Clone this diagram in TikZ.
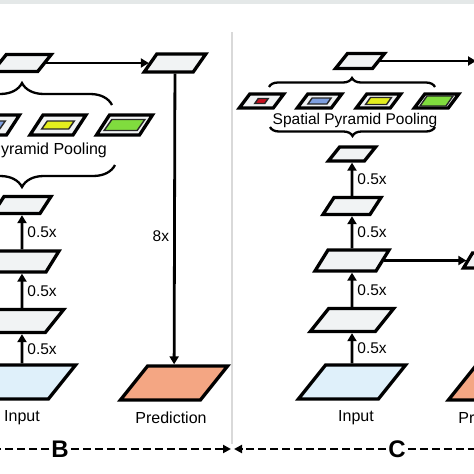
\documentclass[tikz,border=0pt]{standalone}
\usepackage{fontspec}
\setmainfont{Liberation Sans}
\usepackage{tikz}
\usepackage{xcolor}
\usetikzlibrary{positioning,calc,arrows.meta,decorations.pathreplacing}

\definecolor{sheetgray}{HTML}{F1F3F4}
\definecolor{inputblue}{HTML}{DFF0FA}
\definecolor{predorange}{HTML}{F4A683}
\definecolor{binred}{HTML}{C8101E}
\definecolor{binblue}{HTML}{7E9FE0}
\definecolor{binyellow}{HTML}{E4EE1E}
\definecolor{bingreen}{HTML}{80DC3E}
\definecolor{sepgray}{HTML}{D9D9D9}
\definecolor{bandgray}{HTML}{E4E8E8}

\begin{document}
\begin{tikzpicture}[
    x=1pt, y=-1pt,
    sheet/.style={draw, line width=3.3pt, fill=sheetgray, inner sep=0pt},
    lv0/.style={sheet, minimum width=80pt, minimum height=34pt, xslant=0.8},
    lv1/.style={sheet, minimum width=65pt, minimum height=23pt, xslant=0.8},
    lv2/.style={sheet, minimum width=61pt, minimum height=21pt, xslant=0.62},
    lv3/.style={sheet, minimum width=47pt, minimum height=17pt, xslant=0.65},
    lv4/.style={sheet, minimum width=36pt, minimum height=14pt, xslant=0.8},
    poolB/.style={sheet, minimum width=43pt, minimum height=20pt, xslant=0.65},
    poolC/.style={sheet, minimum width=34pt, minimum height=14pt, xslant=0.75},
    bin/.style={draw=black!85, line width=1.4pt, inner sep=0pt, xslant=0.7},
    arrow/.style={-{Triangle[length=8pt,width=9pt]}, line width=2.8pt},
    rate/.style={font=\fontsize{15.5}{17}\selectfont, inner sep=1pt},
    lab/.style={font=\fontsize{16}{18}\selectfont, inner sep=0pt},
    brc/.style={decorate, line width=2.3pt},
    part/.style={font=\fontsize{24}{26}\selectfont\bfseries, inner sep=2pt},
    sectline/.style={dashed, dash pattern=on 8pt off 4pt, line width=2.4pt}
  ]
    \useasboundingbox (0,0) rectangle (474,474);
    \fill[white] (0,0) rectangle (474,474);
    \clip (0,0) rectangle (474,474);
    \fill[bandgray] (0,0) rectangle (474,4);
    \draw[sepgray, line width=1.2pt] (232,32) -- (232,444);

    % B
    \node[sheet, minimum width=45pt, minimum height=17pt, xslant=0.8] (bTop) at (22,63) {};
    \node[sheet, minimum width=49pt, minimum height=18pt, xslant=0.7] (bOut) at (175,63) {};
    \draw[brc, decoration={brace, amplitude=22pt}] (-68,105) -- (112,105);
    \node[poolB] (bPool1) at (-75,125) {};
    \node[poolB] (bPool2) at (-8.5,125) {};
    \node[poolB] (bPool3) at (58,125) {};
    \node[poolB] (bPool4) at (124.5,125) {};
    \node[bin, fill=binred, minimum width=12pt, minimum height=6pt] (bBin1) at (bPool1) {};
    \node[bin, fill=binblue, minimum width=22pt, minimum height=8pt] (bBin2) at (bPool2) {};
    \node[bin, fill=binyellow, minimum width=27pt, minimum height=8pt] (bBin3) at (bPool3) {};
    \node[bin, fill=bingreen, minimum width=33pt, minimum height=11pt] (bBin4) at (bPool4) {};
    \node[lab] (bSpp) at (22,150) {Spatial Pyramid Pooling};
    \draw[brc, decoration={brace, amplitude=22pt}] (115,165) -- (-71,165);
    \node[lv3] (bS3) at (22,205) {};
    \node[lv2] (bS2) at (22,261.5) {};
    \node[lv1] (bS1) at (22,321) {};
    \node[lv0, fill=inputblue] (bIn) at (22,382) {};
    \node[lv0, fill=predorange] (bPred) at (174,383) {};
    \node[lab] (bInLab) at (22,418) {Input};
    \node[lab] (bPredLab) at (171,418) {Prediction};

    \draw[arrow] (bTop) -- (bOut);
    \draw[arrow] (bOut) -- node[rate, pos=0.56, left=3pt] {8x} (bPred);
    \draw[arrow] (bIn) -- node[rate, midway, right=3pt] {0.5x} (bS1);
    \draw[arrow] (bS1) -- node[rate, midway, right=3pt] {0.5x} (bS2);
    \draw[arrow] (bS2) -- node[rate, midway, right=3pt] {0.5x} (bS3);

    % C
    \node[sheet, minimum width=37pt, minimum height=15pt, xslant=0.8] (cTop) at (360,61) {};
    \coordinate (cTopEnd) at (476,61);
    \draw[brc, decoration={brace, amplitude=9pt}] (269,87) -- (435,87);
    \node[poolC] (cPool1) at (261.5,101) {};
    \node[poolC] (cPool2) at (319.5,101) {};
    \node[poolC] (cPool3) at (378.5,101) {};
    \node[poolC] (cPool4) at (436.5,101) {};
    \node[bin, fill=binred, minimum width=10pt, minimum height=5pt] (cBin1) at (cPool1) {};
    \node[bin, fill=binblue, minimum width=19pt, minimum height=6pt] (cBin2) at (cPool2) {};
    \node[bin, fill=binyellow, minimum width=21pt, minimum height=7pt] (cBin3) at (cPool3) {};
    \node[bin, fill=bingreen, minimum width=26pt, minimum height=10pt] (cBin4) at (cPool4) {};
    \node[lab, font=\fontsize{15.5}{17}\selectfont] (cSpp) at (355,120) {Spatial Pyramid Pooling};
    \draw[brc, decoration={brace, amplitude=9pt}] (435,127) -- (270,127);
    \node[lv4] (cS4) at (352,154) {};
    \node[lv3] (cS3) at (352,206) {};
    \node[lv2] (cS2) at (352,260.5) {};
    \node[lv1] (cS1) at (352,320) {};
    \node[lv0, fill=inputblue] (cIn) at (352,382) {};
    \node[sheet, minimum width=50pt, minimum height=15pt, xslant=0.6] (cSide) at (493,260.5) {};
    \node[lv0, fill=predorange] (cPred) at (502,383) {};
    \node[lab] (cInLab) at (356,418) {Input};
    \node[lab] (cPredLab) at (494,418) {Prediction};

    \draw[arrow] (cTop) -- (cTopEnd);
    \draw[arrow] (cS2) -- (cSide);
    \draw[arrow] (cIn) -- node[rate, midway, right=3pt] {0.5x} (cS1);
    \draw[arrow] (cS1) -- node[rate, midway, right=3pt] {0.5x} (cS2);
    \draw[arrow] (cS2) -- node[rate, midway, right=3pt] {0.5x} (cS3);
    \draw[arrow] (cS3) -- node[rate, midway, right=3pt] {0.5x} (cS4);

    % sections
    \node[part] (bTag) at (60,449) {B};
    \node[part] (cTag) at (397,449) {C};
    \coordinate (bStart) at (-20,449);
    \coordinate (bEnd) at (231,449);
    \coordinate (cEnd) at (234,449);
    \coordinate (cStart) at (494,449);
    \draw[sectline] (bTag) -- (bStart);
    \draw[sectline, -{Triangle[length=8pt,width=8pt]}] (bTag) -- (bEnd);
    \draw[sectline, -{Triangle[length=8pt,width=8pt]}] (cTag) -- (cEnd);
    \draw[sectline] (cTag) -- (cStart);
  \end{tikzpicture}
\end{document}
